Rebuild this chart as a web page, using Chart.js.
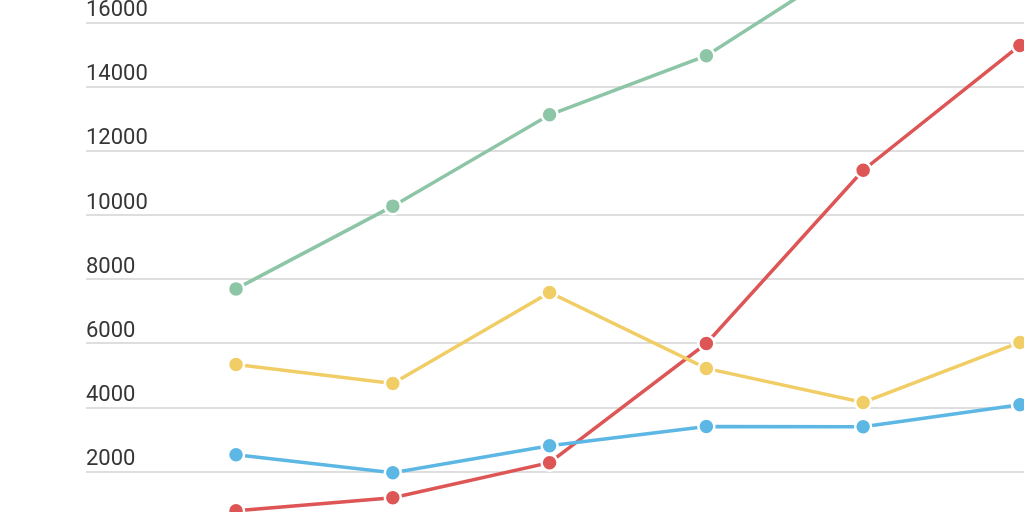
<!DOCTYPE html>
<html>
<head>
<meta charset="utf-8">
<script src="https://cdn.jsdelivr.net/npm/chart.js@4/dist/chart.umd.min.js"></script>
<style>
  html, body { margin: 0; padding: 0; background: #fff; overflow: hidden; }
  #wrap { width: 1024px; height: 512px; position: relative; }
</style>
</head>
<body>
<div id="wrap"><canvas id="trendChart"></canvas></div>
<script>
// x positions of the six periods (the x axis itself sits below the visible area)
const periods = [0, 1, 2, 3, 4, 5];
const yTicks = [2000, 4000, 6000, 8000, 10000, 12000, 14000, 16000];

const greenValues = [7700, 10280, 13130, 14970, 18100, 19400];
const yellowValues = [5340, 4750, 7590, 5220, 4160, 6030];
const blueValues = [2530, 1970, 2810, 3410, 3400, 4090];
const redValues = [780, 1190, 2280, 6000, 11400, 15290];

function toPoints(values) {
    return values.map(function (v, i) { return { x: periods[i], y: v }; });
}

function lineSet(label, values, color) {
    return {
        label: label,
        data: toPoints(values),
        borderColor: color,
        backgroundColor: color,
        borderWidth: 3.5,
        pointRadius: 8,
        pointHoverRadius: 8,
        pointBackgroundColor: color,
        pointBorderColor: '#ffffff',
        pointBorderWidth: 2.5,
        tension: 0,
        fill: false,
        clip: false
    };
}

document.addEventListener("DOMContentLoaded", function () {
    const ctx = document.getElementById('trendChart').getContext('2d');

    new Chart(ctx, {
        type: 'line',
        data: {
            datasets: [
                lineSet('Green', greenValues, '#8dc5a7'),
                lineSet('Yellow', yellowValues, '#f1cd66'),
                lineSet('Blue', blueValues, '#5db7e4'),
                lineSet('Red', redValues, '#dd5555')
            ]
        },
        options: {
            responsive: true,
            maintainAspectRatio: false,
            animation: false,
            layout: { autoPadding: false, padding: { left: 86, top: 0, right: 0, bottom: 0 } },
            plugins: {
                legend: { display: false },
                tooltip: { enabled: false }
            },
            scales: {
                x: {
                    type: 'linear',
                    display: false,
                    min: -0.957,
                    max: 5.026
                },
                y: {
                    min: 743,
                    max: 16708,
                    border: { display: false },
                    grid: {
                        color: '#dedede',
                        lineWidth: 2,
                        drawTicks: false
                    },
                    afterBuildTicks: function (scale) {
                        scale.ticks = yTicks.map(function (v) { return { value: v }; });
                    },
                    afterFit: function (scale) {
                        scale.paddingTop = 0;
                        scale.paddingBottom = 0;
                    },
                    ticks: {
                        mirror: true,
                        padding: 0,
                        labelOffset: -12,
                        color: '#363636',
                        font: { family: 'Roboto', size: 22 },
                        callback: function (value) { return String(value); }
                    }
                }
            }
        }
    });
});
</script>
</body>
</html>
